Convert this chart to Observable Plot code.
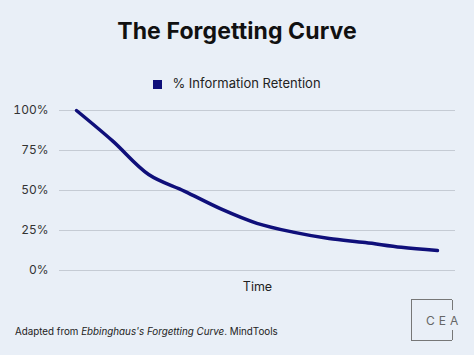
<!DOCTYPE html>
<html>
<head>
<meta charset="utf-8">
<script src="https://cdn.jsdelivr.net/npm/d3@7"></script>
<script src="https://cdn.jsdelivr.net/npm/@observablehq/plot@0.6"></script>
<style>
  html, body { margin: 0; padding: 0; background: #e9eff7; }
  #wrap { position: relative; width: 474px; height: 355px; background: #e9eff7; overflow: hidden; font-family: Inter, "Open Sans", sans-serif; }
  #title { position: absolute; top: 17px; left: 0; width: 474px; text-align: center; font-size: 23px; font-weight: 700; color: #111; letter-spacing: 0.1px; }
  #legend { position: absolute; top: 75px; left: 0; width: 474px; text-align: center; font-size: 13px; color: #222; }
  #legend .sw { display: inline-block; width: 9px; height: 9px; background: #0f0f7a; margin-right: 10px; vertical-align: -0.5px; }
  #chart { position: absolute; top: 95px; left: 0; }
  #caption { position: absolute; top: 326px; left: 15px; font-size: 9.8px; color: #222; }
  #logo { position: absolute; left: 411px; top: 299px; width: 40px; height: 40px; border-left: 1px solid #777; border-top: 1px solid #777; border-bottom: 1px solid #777; }
  #logo .r1 { position: absolute; right: -1px; top: 0; height: 10px; border-right: 1px solid #777; }
  #logo .r2 { position: absolute; right: -1px; bottom: 0; height: 10px; border-right: 1px solid #777; }
  #logo .t { position: absolute; left: 14px; top: 13px; font-size: 12px; letter-spacing: 4px; color: #666; }
</style>
</head>
<body>
<div id="wrap">
  <div id="title">The Forgetting Curve</div>
  <div id="legend"><span class="sw"></span>% Information Retention</div>
  <div id="chart"></div>
  <div id="caption">Adapted from <i>Ebbinghaus's Forgetting Curve</i>. MindTools</div>
  <div id="logo"><div class="r1"></div><div class="r2"></div><div class="t">CEA</div></div>
</div>
<script>
const timeSteps = [0, 1, 2, 3, 4, 5, 6, 7, 8, 9, 10];
const retention = [100, 81, 60, 49.5, 38.5, 29.5, 24, 20, 17.5, 14.5, 12.5];
const yTicks = [0, 25, 50, 75, 100];
const seriesName = "% Information Retention";
const xLabel = "Time";

const data = timeSteps.map((t, i) => ({t, v: retention[i], series: seriesName}));

const plot = Plot.plot({
  width: 474,
  height: 205,
  marginTop: 15,
  marginBottom: 30,
  marginLeft: 59,
  marginRight: 19,
  style: { background: "transparent", fontFamily: "Inter, 'Open Sans', sans-serif", fontSize: "12px", color: "#333" },
  x: { domain: [-0.47, 10.5], axis: null },
  y: { domain: [0, 100], ticks: yTicks, tickFormat: d => d + "%", label: null, tickSize: 0, tickPadding: 11 },
  marks: [
    Plot.ruleY(yTicks, { stroke: "#c5cbd4", strokeWidth: 1 }),
    Plot.line(data, { x: "t", y: "v", stroke: "#0f0f7a", strokeWidth: 3.5, curve: "catmull-rom" }),
    Plot.text([xLabel], { frameAnchor: "bottom", dy: 20, text: d => d, fontSize: 12.5, fill: "#222" })
  ]
});
document.getElementById("chart").appendChild(plot);
</script>
</body>
</html>
